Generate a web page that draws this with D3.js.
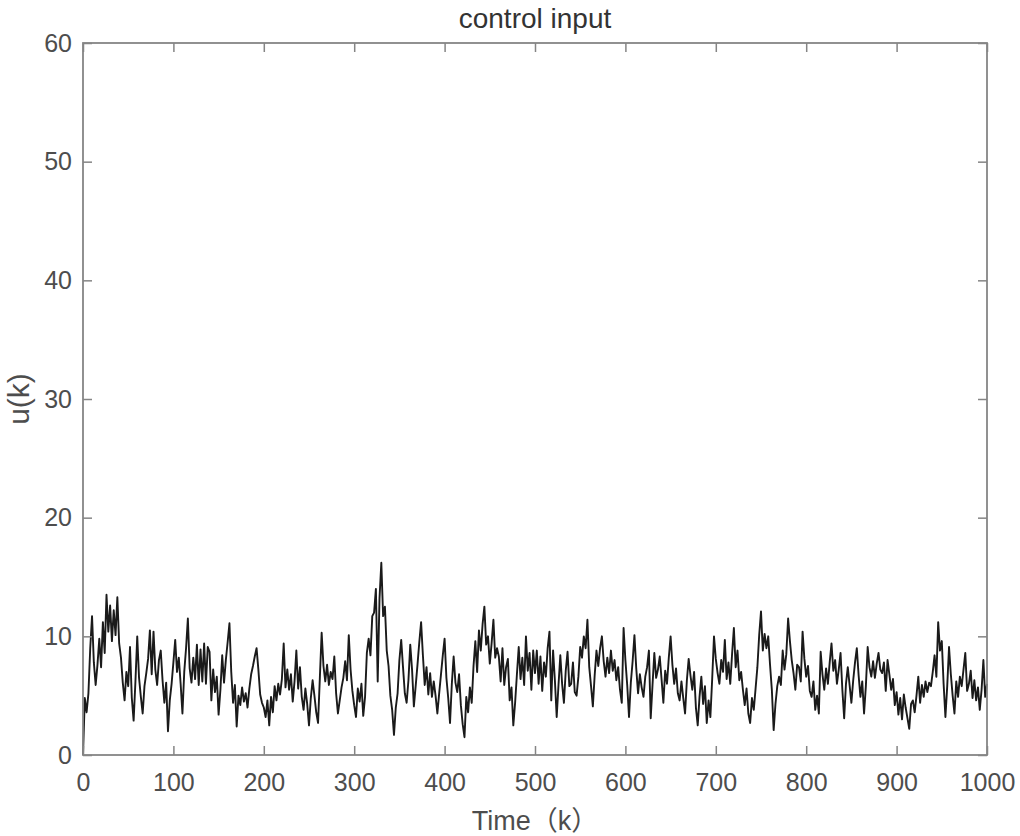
<!DOCTYPE html>
<html>
<head>
<meta charset="utf-8">
<script src="https://cdn.jsdelivr.net/npm/d3@7"></script>
<style>
  body { margin: 0; background: #fff; }
</style>
</head>
<body>
<svg class="vis" width="1020" height="836"></svg>
<script>
// control input u(k), every 2 steps (k = 0, 2, ..., 1000)
var timeStep = 2;
var uValues = [
  0, 4.8, 3.6, 5.2, 9.0, 11.7, 7.8, 5.9, 7.6, 9.8,
  7.4, 11.2, 8.6, 13.5, 10.4, 12.6, 9.6, 12.2, 10.1, 13.3,
  9.4, 8.2, 6.1, 4.6, 7.0, 5.8, 9.1, 4.8, 2.9, 6.2,
  10.0, 6.5, 4.9, 3.5, 5.8, 6.9, 8.1, 10.5, 6.8, 10.4,
  7.2, 5.9, 8.0, 8.8, 6.3, 4.4, 6.1, 2.0, 4.6, 6.0,
  7.8, 9.7, 7.0, 8.2, 6.0, 3.5, 7.0, 9.0, 11.5, 7.3,
  6.1, 8.2, 6.4, 9.3, 5.9, 8.9, 6.2, 9.4, 6.0, 9.1,
  8.7, 4.6, 7.2, 5.3, 6.6, 3.4, 5.5, 8.4, 6.1, 8.0,
  9.5, 11.1, 7.0, 4.4, 5.9, 2.4, 5.0, 4.2, 5.7, 4.5,
  5.2, 4.0, 5.6, 6.8, 7.5, 8.3, 9.0, 7.2, 5.1, 4.4,
  4.0, 3.2, 4.6, 2.5, 4.9, 3.6, 5.8, 4.6, 6.0, 5.1,
  6.4, 9.4, 5.7, 7.2, 5.5, 6.8, 4.5, 6.2, 8.8, 5.6,
  7.4, 4.9, 3.8, 5.6, 4.3, 2.5, 4.8, 6.3, 5.0, 3.6,
  2.7, 6.5, 10.3, 7.5, 6.2, 7.6, 5.9, 7.0, 6.4, 8.3,
  5.2, 3.5, 4.6, 5.7, 6.5, 7.9, 6.3, 10.1, 7.2, 5.4,
  4.2, 3.2, 5.6, 4.5, 6.0, 3.3, 4.9, 8.6, 9.8, 8.4,
  11.7, 12.0, 14.0, 6.2, 13.2, 16.2, 11.7, 12.5, 8.8, 7.5,
  5.0, 3.8, 1.7, 4.0, 5.2, 8.0, 9.7, 7.4, 5.2, 4.4,
  6.3, 9.3, 7.2, 4.1, 5.8, 7.6, 9.5, 11.2, 8.4, 5.9,
  7.4, 5.1, 6.9, 4.9, 6.2, 5.0, 3.5, 5.2, 6.8, 8.4,
  9.8, 6.5, 4.8, 2.7, 6.0, 8.3, 6.1, 5.3, 6.8, 4.2,
  2.6, 1.5, 4.9, 3.6, 5.7, 4.4, 7.5, 9.6, 7.0, 10.5,
  8.8, 11.0, 12.5, 9.3, 10.0, 7.7, 9.4, 11.4, 8.2, 9.0,
  8.3, 6.2, 9.0, 5.9, 7.4, 8.1, 4.6, 5.7, 2.5, 4.4,
  6.8, 9.1, 6.4, 8.2, 5.9, 10.0, 7.1, 8.6, 5.5, 8.8,
  6.9, 8.8, 6.0, 8.3, 5.4, 7.8, 6.6, 9.0, 10.4, 4.6,
  8.8, 6.3, 3.2, 5.9, 8.4, 6.0, 4.4, 7.1, 8.7, 5.8,
  6.0, 7.8, 5.3, 5.0, 6.6, 9.1, 8.2, 10.0, 9.0, 11.4,
  7.4, 5.8, 4.1, 6.7, 8.8, 7.5, 9.0, 10.0, 7.9, 6.6,
  8.2, 6.9, 8.8, 7.1, 8.0, 6.3, 7.4, 5.5, 4.4, 10.7,
  8.0, 5.9, 3.2, 6.1, 7.9, 10.1, 7.3, 5.2, 6.8, 5.7,
  4.9, 6.6, 7.4, 8.8, 3.1, 5.9, 8.6, 6.5, 7.2, 8.3,
  6.4, 4.4, 7.1, 6.0, 8.2, 10.0, 7.6, 6.0, 7.3, 5.2,
  4.6, 6.2, 4.8, 3.5, 6.3, 8.1, 6.7, 5.5, 7.0, 4.0,
  2.5, 4.9, 6.6, 4.3, 5.8, 2.7, 4.6, 3.2, 6.4, 10.0,
  8.1, 6.9, 6.0, 8.0, 7.0, 9.7, 6.4, 7.8, 6.0, 8.5,
  10.7, 7.4, 8.8, 6.3, 7.0, 5.5, 4.2, 5.6, 3.5, 2.7,
  4.8, 3.8, 5.6, 7.4, 10.1, 12.1, 8.8, 10.2, 9.0, 10.0,
  7.6, 5.5, 2.1, 4.3, 5.8, 6.6, 5.9, 8.8, 7.2, 8.5,
  11.5, 9.6, 8.0, 6.9, 5.5, 7.6, 7.4, 6.2, 10.4, 8.1,
  6.6, 7.5, 5.4, 4.9, 6.2, 3.8, 5.0, 3.5, 8.7, 6.8,
  5.5, 7.3, 6.0, 7.8, 9.4, 7.1, 8.0, 6.0, 7.2, 8.6,
  5.5, 3.1, 6.0, 7.4, 5.9, 4.4, 6.3, 7.8, 9.0, 6.7,
  4.9, 6.2, 3.5, 5.8, 9.1, 7.4, 6.6, 7.9, 6.5, 7.7,
  8.6, 7.2, 6.9, 7.8, 5.4, 8.0, 6.8, 5.5, 6.4, 4.2,
  5.3, 3.4, 4.8, 3.0, 5.1, 4.0, 3.1, 2.2, 4.3, 4.6,
  3.6, 5.0, 6.6, 4.4, 5.9, 4.9, 6.2, 5.3, 6.1, 5.8,
  7.0, 8.4, 6.6, 11.2, 8.8, 9.6, 6.0, 3.2, 5.8, 9.1,
  6.8, 5.0, 3.5, 6.2, 4.9, 6.6, 5.8, 7.2, 8.6, 5.4,
  6.0, 7.1, 4.8, 6.3, 4.6, 5.7, 3.8, 5.5, 8.0, 4.9,
  6.0
];
var xTicks = [0, 100, 200, 300, 400, 500, 600, 700, 800, 900, 1000];
var yTicks = [0, 10, 20, 30, 40, 50, 60];

var svg = d3.select(".vis");

var margin = { top: 43, right: 33, bottom: 81, left: 83 },
    width = 1020 - margin.left - margin.right,
    height = 836 - margin.top - margin.bottom;

var axisColor = "#858585",
    textColor = "#4d4d4d",
    tickLen = 9;

var g = svg.append("g")
    .attr("transform", "translate(" + margin.left + "," + margin.top + ")");

var x = d3.scaleLinear()
    .domain([0, 1000])
    .range([0, width]);

var y = d3.scaleLinear()
    .domain([0, 60])
    .range([height, 0]);

// title
svg.append("text")
    .attr("x", margin.left + width / 2)
    .attr("y", 28)
    .attr("text-anchor", "middle")
    .attr("font-family", "Liberation Sans, Arial, sans-serif")
    .attr("font-size", "28px")
    .attr("fill", "#333")
    .text("control input");

// the line
var line = d3.line()
    .x(function (d, i) { return x(i * timeStep); })
    .y(function (d) { return y(d); });

g.append("path")
    .datum(uValues)
    .attr("fill", "none")
    .attr("stroke", "#1a1a1a")
    .attr("stroke-width", 1.9)
    .attr("stroke-linejoin", "round")
    .attr("d", line);

// axes, ticks pointing inwards (matlab style box)
function styleAxis(sel) {
    sel.select(".domain").remove();
    sel.selectAll(".tick line").attr("stroke", axisColor).attr("stroke-width", 1.5);
    sel.selectAll(".tick text")
        .attr("fill", textColor)
        .attr("font-family", "Liberation Sans, Arial, sans-serif")
        .attr("font-size", "25px");
}

g.append("g")
    .attr("transform", "translate(0," + height + ")")
    .call(d3.axisBottom(x).tickValues(xTicks).tickFormat(d3.format("d"))
        .tickSizeInner(-tickLen).tickSizeOuter(0).tickPadding(18))
    .call(styleAxis);

g.append("g")
    .call(d3.axisTop(x).tickValues(xTicks).tickSizeInner(-tickLen).tickSizeOuter(0).tickFormat(""))
    .call(styleAxis);

g.append("g")
    .call(d3.axisLeft(y).tickValues(yTicks).tickSizeInner(-tickLen).tickSizeOuter(0).tickPadding(11))
    .call(styleAxis);

g.append("g")
    .attr("transform", "translate(" + width + ",0)")
    .call(d3.axisRight(y).tickValues(yTicks).tickSizeInner(-tickLen).tickSizeOuter(0).tickFormat(""))
    .call(styleAxis);

// box
g.append("rect")
    .attr("width", width)
    .attr("height", height)
    .attr("fill", "none")
    .attr("stroke", axisColor)
    .attr("stroke-width", 1.8);

// axis labels
svg.append("text")
    .attr("x", margin.left + width / 2)
    .attr("y", 830)
    .attr("text-anchor", "middle")
    .attr("font-family", "Liberation Sans, Arial, 'Noto Sans CJK SC', sans-serif")
    .attr("font-size", "27px")
    .attr("fill", textColor)
    .text("Time（k）");

svg.append("text")
    .attr("transform", "translate(29," + (margin.top + height / 2) + ") rotate(-90)")
    .attr("text-anchor", "middle")
    .attr("font-family", "Liberation Sans, Arial, sans-serif")
    .attr("font-size", "30px")
    .attr("fill", textColor)
    .text("u(k)");
</script>
</body>
</html>
